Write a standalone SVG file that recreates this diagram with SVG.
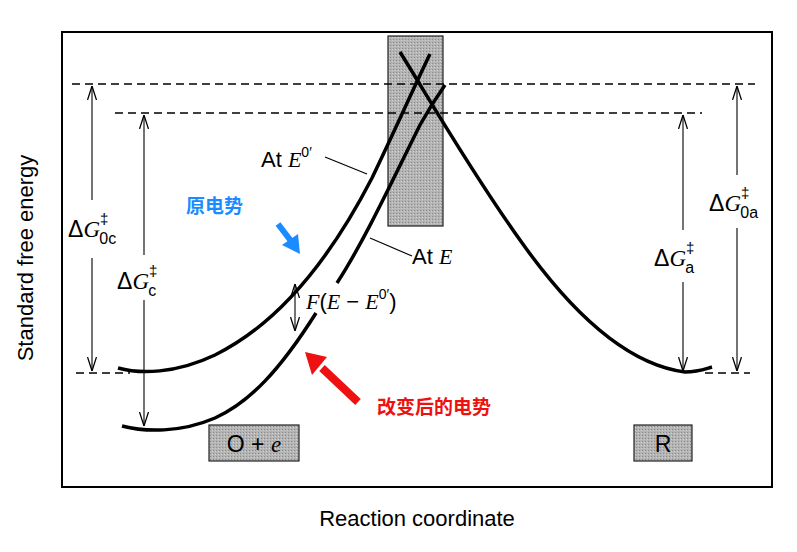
<svg xmlns="http://www.w3.org/2000/svg" width="797" height="552" viewBox="0 0 797 552">
<defs>
<marker id="oa" viewBox="0 0 14 10" refX="14" refY="5" markerWidth="14" markerHeight="10" orient="auto-start-reverse" markerUnits="userSpaceOnUse"><path d="M0,0.5 L14,5 L0,9.5" fill="none" stroke="#000" stroke-width="1.3"/></marker>
<pattern id="gr" width="3" height="3" patternUnits="userSpaceOnUse"><rect width="3" height="3" fill="#b4b4b4"/><rect width="1" height="1" fill="#8a8a8a"/><rect x="2" y="1" width="1" height="1" fill="#d0d0d0"/></pattern>
</defs>
<style>
text{font-family:"Liberation Sans",Arial,sans-serif;fill:#000}
.it{font-family:"Liberation Serif","Times New Roman",serif;font-style:italic}
.dash{stroke:#000;stroke-width:1.3;stroke-dasharray:8,5;fill:none}
.cv{stroke:#000;stroke-width:3.5;fill:none}
.up{stroke:#000;stroke-width:1.1;fill:none;marker-start:url(#oa)}
.dn{stroke:#000;stroke-width:1.1;fill:none;marker-end:url(#oa)}
.ar{stroke:#000;stroke-width:1.1;fill:none;marker-start:url(#oa);marker-end:url(#oa)}
.ld{stroke:#000;stroke-width:1.2}
.box{fill:url(#gr);stroke:#222;stroke-width:1.2}
.cjk{font-family:"Noto Sans CJK SC",sans-serif;font-weight:bold;font-size:19px}
</style>
<rect x="0" y="0" width="797" height="552" fill="#fff"/>
<rect x="62" y="32" width="710" height="455" fill="none" stroke="#000" stroke-width="2"/>
<g id="ts"><rect class="box" x="388" y="36" width="55" height="190"/></g>
<g id="connectors">
<line class="dash" x1="72" y1="84" x2="755" y2="84"/>
<line class="dash" x1="115" y1="113" x2="702" y2="113"/>
<line class="dash" x1="76" y1="373" x2="130" y2="373"/>
<line class="dash" x1="705" y1="373" x2="750" y2="373"/>
<path class="cv" d="M118,368 C140,374 175,374 215,355 C290,318 340,240 372,178 C395,130 415,85 430,54"/>
<path class="cv" d="M122,426 C145,432 180,433 215,418 C250,402 280,370 316,313"/>
<path class="cv" d="M337,283 C365,240 395,175 420,125 C430,107 438,95 445,85"/>
<path class="cv" d="M400,52 C430,100 470,170 520,240 C575,318 630,365 685,372 C698,372 705,369 712,367"/>
<line class="up" x1="92" y1="86" x2="92" y2="200"/><line class="dn" x1="92" y1="258" x2="92" y2="371"/>
<line class="up" x1="144" y1="115" x2="144" y2="255"/><line class="dn" x1="144" y1="300" x2="144" y2="426"/>
<line class="up" x1="683" y1="115" x2="683" y2="230"/><line class="dn" x1="683" y1="282" x2="683" y2="371"/>
<line class="up" x1="737" y1="86" x2="737" y2="175"/><line class="dn" x1="737" y1="228" x2="737" y2="371"/>
<line class="ar" x1="295" y1="284" x2="295" y2="331"/>
<line class="ld" x1="325" y1="157" x2="367" y2="174"/>
<line class="ld" x1="370" y1="238" x2="412" y2="256"/>
</g>
<g id="labels">
<text x="261" y="167" font-size="22">At <tspan class="it">E</tspan><tspan font-size="14" dy="-10">0′</tspan></text>
<text x="412" y="264" font-size="22">At <tspan class="it">E</tspan></text>
<text x="306" y="309" font-size="22"><tspan class="it">F</tspan>(<tspan class="it">E</tspan> − <tspan class="it">E</tspan><tspan font-size="14" dy="-10">0′</tspan><tspan dy="10">)</tspan></text>
<text x="68" y="237" font-size="23">Δ<tspan class="it">G</tspan><tspan font-size="15" dy="-13">‡</tspan><tspan font-size="16" dx="-9" dy="20">0c</tspan></text>
<text x="117" y="289" font-size="23">Δ<tspan class="it">G</tspan><tspan font-size="15" dy="-13">‡</tspan><tspan font-size="16" dx="-9" dy="20">c</tspan></text>
<text x="654" y="266" font-size="23">Δ<tspan class="it">G</tspan><tspan font-size="15" dy="-13">‡</tspan><tspan font-size="16" dx="-9" dy="20">a</tspan></text>
<text x="709" y="211" font-size="23">Δ<tspan class="it">G</tspan><tspan font-size="15" dy="-13">‡</tspan><tspan font-size="16" dx="-9" dy="20">0a</tspan></text>
<text transform="translate(33,258) rotate(-90)" text-anchor="middle" font-size="22">Standard free energy</text>
<text x="417" y="526" text-anchor="middle" font-size="22">Reaction coordinate</text>
</g>
<g id="n-oe"><rect class="box" x="209" y="425" width="90" height="36"/><text x="254" y="452" text-anchor="middle" font-size="23">O + <tspan class="it">e</tspan></text></g>
<g id="n-r"><rect class="box" x="634" y="425" width="58" height="36"/><text x="663" y="452" text-anchor="middle" font-size="23">R</text></g>
<g id="annot">
<text class="cjk" x="186" y="213" style="fill:#1a8cff">原电势</text>
<line x1="278" y1="224" x2="291" y2="241" stroke="#1a8cff" stroke-width="6"/>
<path d="M300,254 L282,245 L298,234 Z" fill="#1a8cff"/>
<text class="cjk" x="377" y="414" style="fill:#ee1111">改变后的电势</text>
<line x1="358" y1="402" x2="322" y2="368" stroke="#ee1111" stroke-width="8"/>
<path d="M305,352 L327,357 L312,375 Z" fill="#ee1111"/>
</g>
</svg>
